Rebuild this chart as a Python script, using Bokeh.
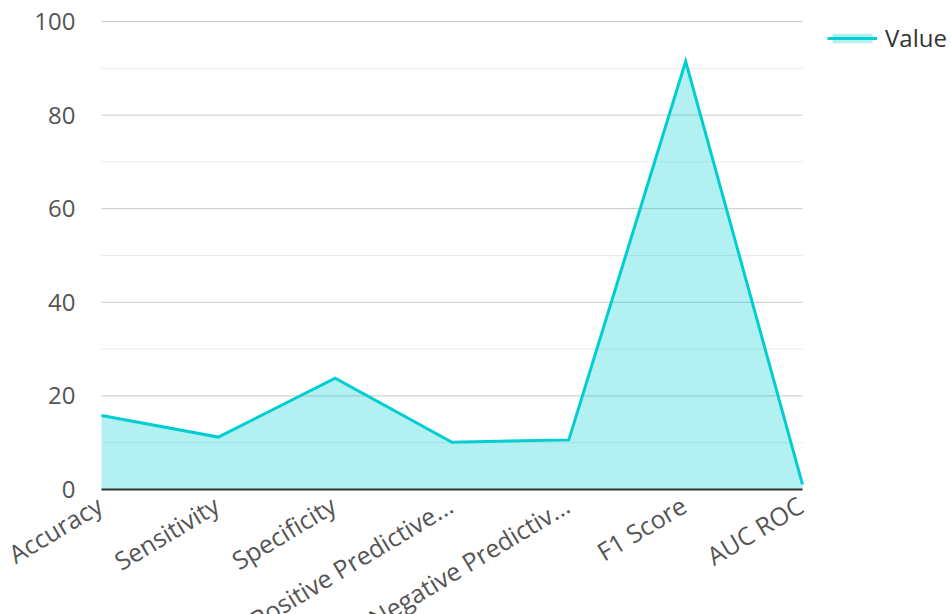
import math
from bokeh.plotting import figure
from bokeh.models import Range1d, Legend, LegendItem
from bokeh.core.properties import value
from bokeh.embed import file_html
from bokeh.resources import INLINE

categories = ["Accuracy", "Sensitivity", "Specificity", "Positive Predictive...",
              "Negative Predictiv...", "F1 Score", "AUC ROC"]
values = [15.8, 11.2, 23.8, 10.1, 10.6, 91.5, 1.1]
y_ticks = [0, 20, 40, 60, 80, 100]
y_minor = [10, 30, 50, 70, 90]
series_name = "Value"

n = len(categories)
x = list(range(n))

# layout (pixels)
W, H = 951, 614
left, top = 101, 21
plot_w, plot_h = 701, 468          # drawing area of the series
right = W - left - plot_w
bottom = H - top - plot_h
px_per_x = plot_w / (n - 1)
px_per_y = plot_h / (y_ticks[-1] - y_ticks[0])

p = figure(width=W, height=H, output_backend="svg", toolbar_location=None,
           x_range=Range1d(-left / px_per_x, (n - 1) + right / px_per_x),
           y_range=Range1d(y_ticks[0] - bottom / px_per_y, y_ticks[-1] + top / px_per_y),
           x_axis_location=None, y_axis_location=None,
           min_border=0)
p.outline_line_color = None
p.background_fill_color = "white"
p.border_fill_color = "white"
p.xgrid.visible = False
p.ygrid.visible = False

# horizontal grid lines across the series area only
p.segment(x0=[0] * len(y_minor), x1=[n - 1] * len(y_minor), y0=y_minor, y1=y_minor,
          line_color="#ebebeb", line_width=1)
p.segment(x0=[0] * len(y_ticks), x1=[n - 1] * len(y_ticks), y0=y_ticks, y1=y_ticks,
          line_color="#c8c8c8", line_width=1)

area = p.varea(x=x, y1=[0] * n, y2=values, fill_color="#00CED1", fill_alpha=0.3)
line = p.line(x, values, line_color="#00CED1", line_width=3, line_join="miter")

# x axis baseline
p.segment(x0=[0], x1=[n - 1], y0=[0], y1=[0], line_color="#333333", line_width=2)

# category labels (rotated)
p.text(x=[xi - 2 / px_per_x for xi in x], y=[-13 / px_per_y] * n, text=categories,
       angle=math.radians(31), text_align="right", text_baseline="middle",
       text_font=value("Open Sans"), text_font_size="25px", text_color="#555555")

# value tick labels
p.text(x=[-26 / px_per_x] * len(y_ticks), y=y_ticks, text=[str(t) for t in y_ticks],
       text_align="right", text_baseline="middle",
       text_font=value("Open Sans"), text_font_size="24px", text_color="#555555")

legend = Legend(items=[LegendItem(label=series_name, renderers=[area, line])],
                location=(left + plot_w + 25, H - 21 - 33), glyph_width=50, glyph_height=12,
                label_standoff=8, padding=0, margin=0, spacing=0,
                border_line_color=None, background_fill_alpha=0,
                label_text_font="Open Sans", label_text_font_size="24px",
                label_text_color="#333333")
p.add_layout(legend)

open("out.html", "w").write(file_html(p, INLINE))
